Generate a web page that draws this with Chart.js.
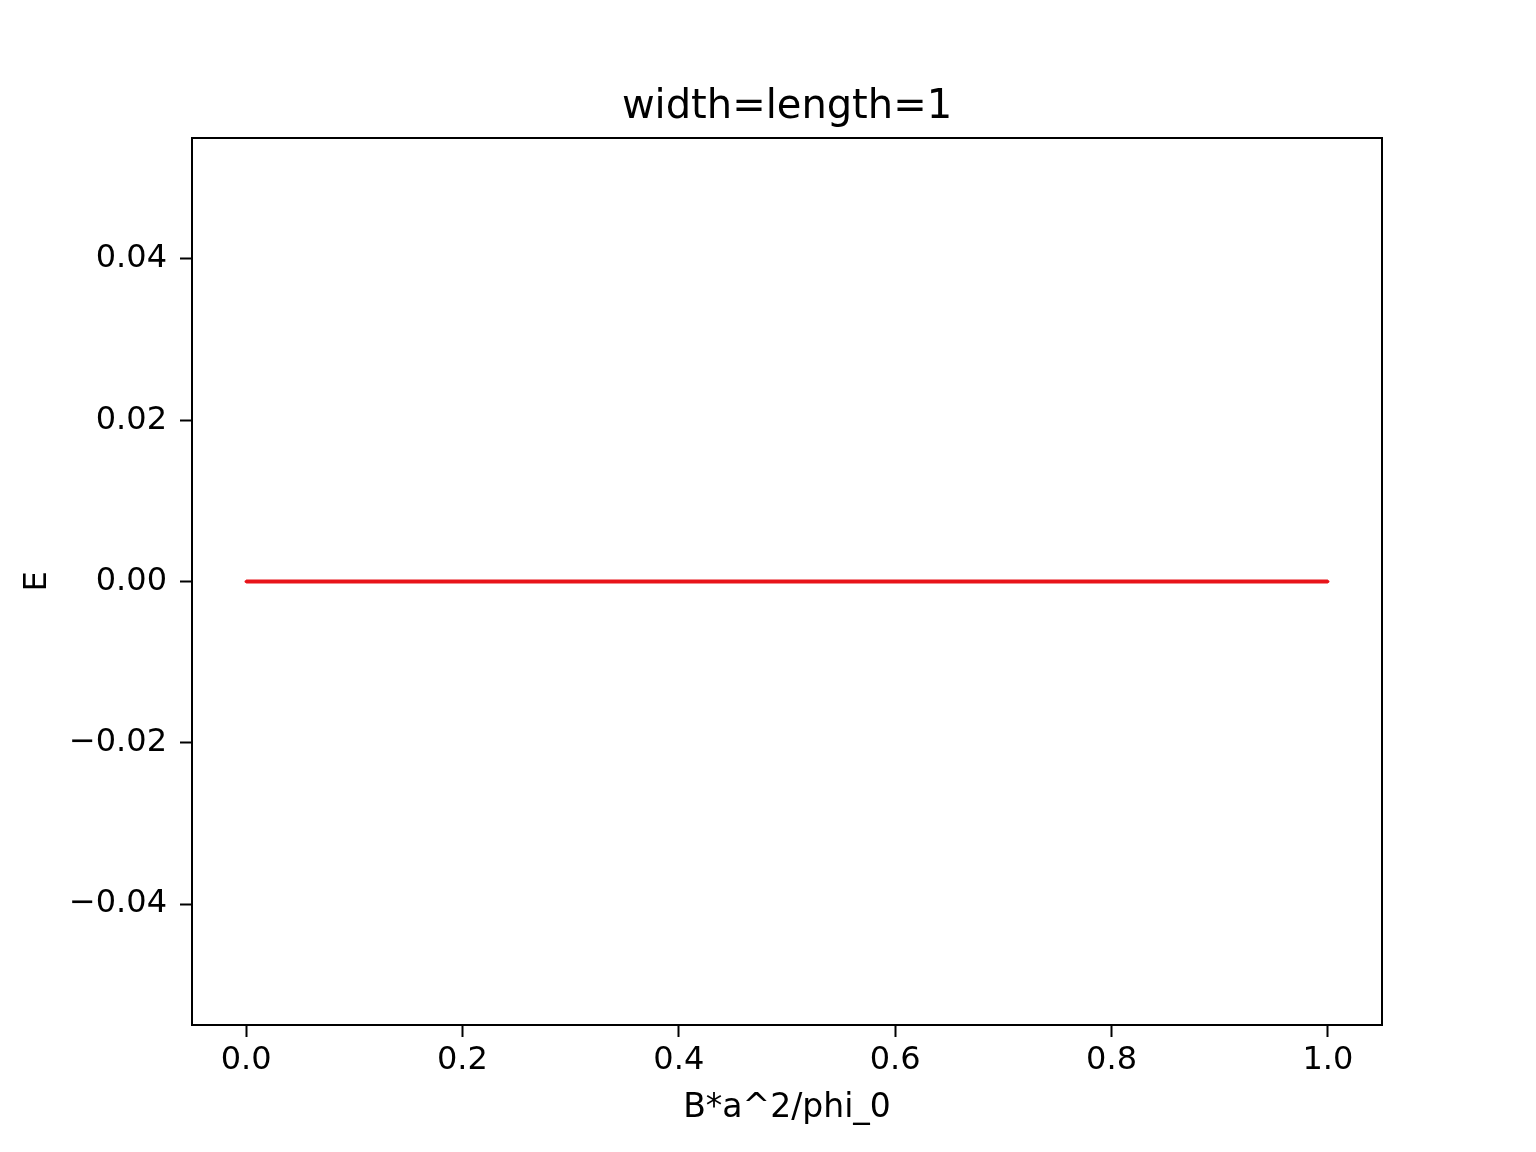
<!DOCTYPE html>
<html>
<head>
<meta charset="utf-8">
<script src="https://cdn.jsdelivr.net/npm/chart.js@4"></script>
<style>
  body { margin: 0; background: #fff; }
  canvas { display: block; }
</style>
</head>
<body>
<canvas id="chart" width="1536" height="1152"></canvas>
<script>
// field values B*a^2/phi_0 and the energy
const fieldValues = [0.00, 0.02, 0.04, 0.06, 0.08, 0.10, 0.12, 0.14, 0.16, 0.18,
    0.20, 0.22, 0.24, 0.26, 0.28, 0.30, 0.32, 0.34, 0.36, 0.38,
    0.40, 0.42, 0.44, 0.46, 0.48, 0.50, 0.52, 0.54, 0.56, 0.58,
    0.60, 0.62, 0.64, 0.66, 0.68, 0.70, 0.72, 0.74, 0.76, 0.78,
    0.80, 0.82, 0.84, 0.86, 0.88, 0.90, 0.92, 0.94, 0.96, 0.98, 1.00];
const energyValues = [0, 0, 0, 0, 0, 0, 0, 0, 0, 0,
    0, 0, 0, 0, 0, 0, 0, 0, 0, 0,
    0, 0, 0, 0, 0, 0, 0, 0, 0, 0,
    0, 0, 0, 0, 0, 0, 0, 0, 0, 0,
    0, 0, 0, 0, 0, 0, 0, 0, 0, 0, 0];
const xTicks = [0.0, 0.2, 0.4, 0.6, 0.8, 1.0];
const yTicks = [-0.04, -0.02, 0.00, 0.02, 0.04];
const chartTitle = 'width=length=1';

const font = 'DejaVu Sans';

// draws the black frame round the plot area and the title centred over it
const frame = {
    id: 'frame',
    afterDraw(chart) {
        const { ctx, chartArea: a } = chart;
        ctx.save();
        ctx.strokeStyle = '#000';
        ctx.lineWidth = 2;
        ctx.strokeRect(a.left, a.top, a.right - a.left, a.bottom - a.top);
        ctx.fillStyle = '#000';
        ctx.font = `40px "${font}"`;
        ctx.textAlign = 'center';
        ctx.textBaseline = 'alphabetic';
        ctx.fillText(chartTitle, (a.left + a.right) / 2, a.top - 20);
        ctx.restore();
    }
};

new Chart(document.getElementById('chart').getContext('2d'), {
    type: 'line',
    data: {
        datasets: [{
            data: fieldValues.map((b, i) => ({ x: b, y: energyValues[i] })),
            borderColor: '#e8141a',
            backgroundColor: '#e8141a',
            borderWidth: 4,
            pointRadius: 1.5,
            pointBorderWidth: 0,
            fill: false
        }]
    },
    options: {
        responsive: false,
        animation: false,
        layout: { padding: { left: 18, right: 154, top: 138, bottom: 0 } },
        plugins: {
            legend: { display: false },
            tooltip: { enabled: false },
            title: { display: false }
        },
        scales: {
            x: {
                type: 'linear',
                min: -0.05,
                max: 1.05,
                afterBuildTicks: s => { s.ticks = xTicks.map(v => ({ value: v })); },
                afterFit: s => { s.height = 127; },
                grid: { drawOnChartArea: false, tickLength: 12, tickColor: '#000', tickWidth: 2 },
                border: { display: false },
                ticks: {
                    color: '#000',
                    font: { family: font, size: 32 },
                    padding: 4,
                    maxRotation: 0,
                    callback: v => v.toFixed(1)
                },
                title: {
                    display: true,
                    text: 'B*a^2/phi_0',
                    color: '#000',
                    font: { family: font, size: 33 },
                    padding: { top: 4, bottom: 24 }
                }
            },
            y: {
                min: -0.055,
                max: 0.055,
                afterBuildTicks: s => { s.ticks = yTicks.map(v => ({ value: v })); },
                afterFit: s => { s.width = 174; },
                grid: { drawOnChartArea: false, tickLength: 12, tickColor: '#000', tickWidth: 2 },
                border: { display: false },
                ticks: {
                    color: '#000',
                    font: { family: font, size: 32 },
                    padding: 13,
                    callback: v => v.toFixed(2).replace('-', '\u2212')
                },
                title: {
                    display: true,
                    text: 'E',
                    color: '#000',
                    font: { family: font, size: 32 },
                    padding: { top: 0, bottom: 0 }
                }
            }
        }
    },
    plugins: [frame]
});
</script>
</body>
</html>
